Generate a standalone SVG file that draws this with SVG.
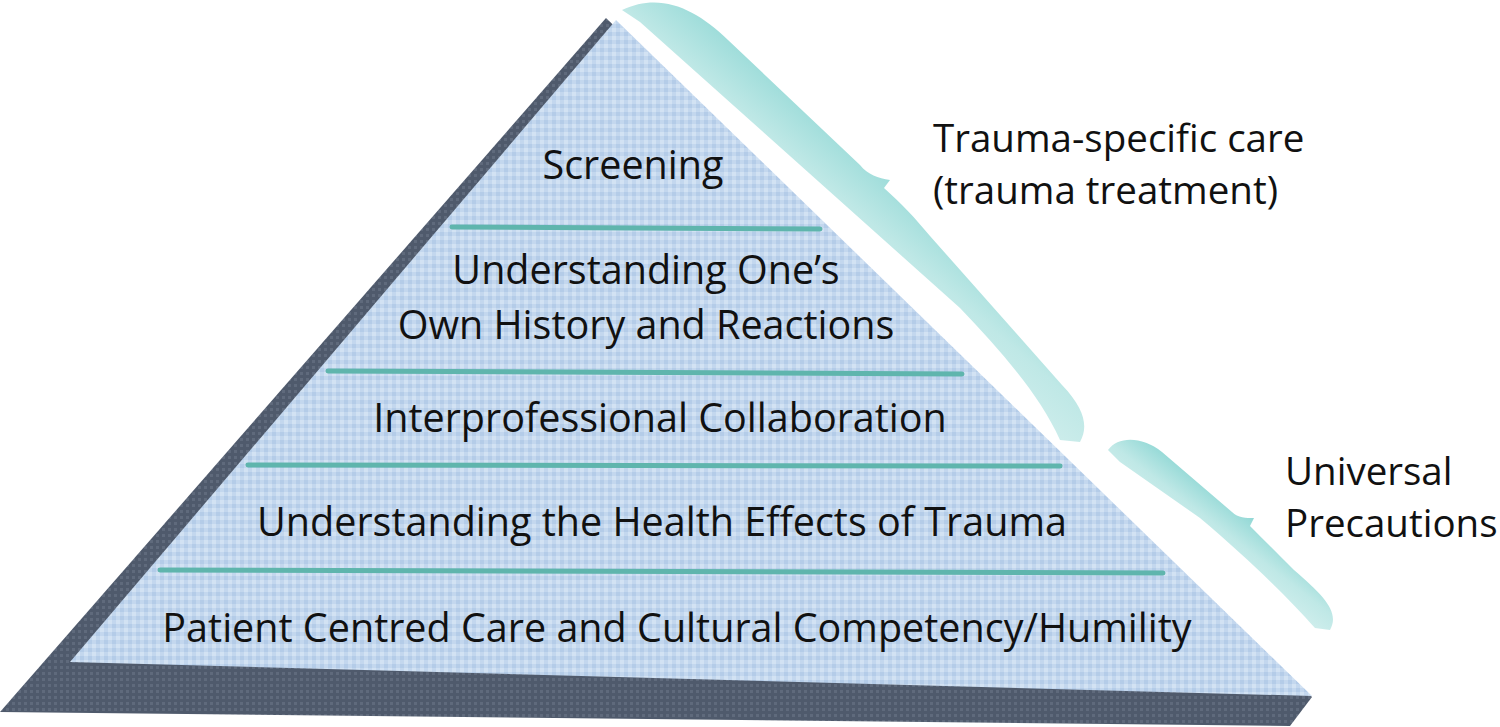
<svg xmlns="http://www.w3.org/2000/svg" width="1500" height="727" viewBox="0 0 1500 727">
<style>
text{font-family:"Open Sans","Noto Sans","Liberation Sans",sans-serif;font-size:39.5px;fill:#111}
.r{font-size:38.5px}
.c{text-anchor:middle}
.sep{stroke:#5fb5ad;stroke-width:5;stroke-linecap:round}
</style>
<defs>
<pattern id="wv" width="8" height="8" patternUnits="userSpaceOnUse">
<rect width="8" height="8" fill="#c3d7ee"/>
<rect width="4" height="4" fill="#b4cce8"/>
<rect x="4" y="4" width="4" height="4" fill="#d2e2f3"/>
</pattern>
<pattern id="dk" width="6" height="6" patternUnits="userSpaceOnUse">
<rect width="6" height="6" fill="#4f5a6c"/>
<rect width="3" height="3" fill="#5f6a7c"/>
</pattern>
<linearGradient id="tg" x1="0.2" y1="0.8" x2="0.75" y2="0.2">
<stop offset="0" stop-color="#ffffff"/>
<stop offset="0.55" stop-color="#bfe8e6"/>
<stop offset="1" stop-color="#49bfbb"/>
</linearGradient>
</defs>
<g id="braces">
<path d="M622,10 C660,-8 695,8 728,40 L860,165 C868,175 878,178 890,180 L884,188 C902,204 915,218 930,236 L1062,385 C1086,410 1088,428 1080,442 L1060,440 C1040,395 1000,350 960,308 L640,22 Z" fill="url(#tg)"/>
<path d="M1108,450 C1118,436 1142,436 1162,452 L1232,512 C1238,518 1246,518 1254,518 L1250,526 C1264,540 1278,554 1294,570 C1324,596 1340,612 1330,630 L1315,628 C1290,600 1250,560 1200,518 L1120,462 Z" fill="url(#tg)"/>
</g>
<g id="pyramid">
<polygon points="606,18 0,712 1290,726 1312,697" fill="url(#dk)"/>
<polygon points="616,20 70,662 1312,696" fill="url(#wv)"/>
</g>
<g id="connectors">
<line class="sep" x1="452" y1="227" x2="820" y2="229"/>
<line class="sep" x1="328" y1="371" x2="962" y2="374"/>
<line class="sep" x1="248" y1="465" x2="1060" y2="466"/>
<line class="sep" x1="160" y1="570" x2="1163" y2="573"/>
</g>
<g id="n1"><text class="c" x="633" y="179">Screening</text></g>
<g id="n2"><text class="c" x="646" y="284">Understanding One’s</text><text class="c" x="646" y="339">Own History and Reactions</text></g>
<g id="n3"><text class="c" x="660" y="432">Interprofessional Collaboration</text></g>
<g id="n4"><text class="c" x="662" y="536">Understanding the Health Effects of Trauma</text></g>
<g id="n5"><text class="c" x="677" y="642">Patient Centred Care and Cultural Competency/Humility</text></g>
<g id="l1"><text class="r" x="933" y="152">Trauma-specific care</text><text class="r" x="933" y="204">(trauma treatment)</text></g>
<g id="l2"><text class="r" x="1285" y="485">Universal</text><text class="r" x="1285" y="537">Precautions</text></g>
</svg>
